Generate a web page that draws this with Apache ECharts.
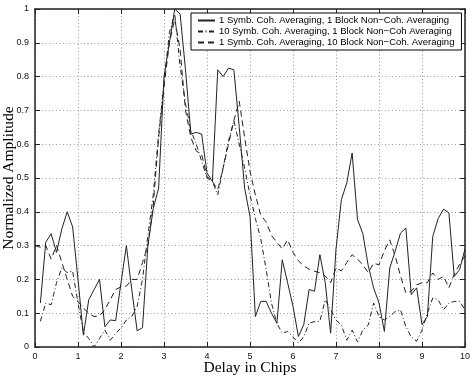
<!DOCTYPE html>
<html>
<head>
<meta charset="utf-8">
<script src="https://cdn.jsdelivr.net/npm/echarts@6/dist/echarts.min.js"></script>
<style>
html,body{margin:0;padding:0;background:#fff;}
#chart{width:474px;height:378px;}
</style>
</head>
<body>
<div id="chart"></div>
<script>
const delays = [0,0.125,0.25,0.375,0.5,0.625,0.75,0.875,1,1.125,1.25,1.375,1.5,1.625,1.75,1.875,2,2.125,2.25,2.375,2.5,2.625,2.75,2.875,3,3.125,3.25,3.375,3.5,3.625,3.75,3.875,4,4.125,4.25,4.375,4.5,4.625,4.75,4.875,5,5.125,5.25,5.375,5.5,5.625,5.75,5.875,6,6.125,6.25,6.375,6.5,6.625,6.75,6.875,7,7.125,7.25,7.375,7.5,7.625,7.75,7.875,8,8.125,8.25,8.375,8.5,8.625,8.75,8.875,9,9.125,9.25,9.375,9.5,9.625,9.75,9.875,10];

const seriesNames = [
  '1 Symb. Coh. Averaging, 1 Block Non\u2212Coh. Averaging',
  '10 Symb. Coh. Averaging, 1 Block Non\u2212Coh Averaging',
  '1 Symb. Coh. Averaging, 10 Block Non\u2212Coh. Averaging'
];

const solid1x1 = [null,0.13,0.31,0.335,0.28,0.35,0.40,0.355,0.20,0.035,0.14,0.17,0.20,0.06,0.08,0.078,0.19,0.30,0.17,0.048,0.057,0.30,0.41,0.47,0.80,0.90,1.00,0.985,0.82,0.63,0.635,0.63,0.515,0.49,0.82,0.80,0.825,0.82,0.65,0.47,0.386,0.09,0.135,0.135,0.10,0.07,0.258,0.19,0.12,0.031,0.066,0.17,0.165,0.273,0.19,0.041,0.29,0.436,0.485,0.574,0.377,0.335,0.24,0.175,0.13,0.046,0.234,0.283,0.337,0.352,0.155,0.175,0.066,0.09,0.327,0.38,0.408,0.397,0.209,0.229,0.29];

const dashdot10x1 = [null,0.076,0.13,0.125,0.19,0.234,0.22,0.225,0.13,0.045,0.025,0.0,0.025,0.05,0.02,0.04,0.056,0.08,0.09,0.12,0.20,0.33,0.45,0.63,0.78,0.93,0.985,0.83,0.72,0.64,0.60,0.55,0.50,0.49,0.45,0.53,0.61,0.67,0.60,0.53,0.45,0.38,0.32,0.23,0.13,0.07,0.041,0.046,0.03,0.012,0.03,0.071,0.075,0.076,0.14,0.11,0.08,0.065,0.02,0.05,0.015,0.05,0.065,0.13,0.09,0.08,0.09,0.105,0.11,0.06,0.03,0.017,0.05,0.10,0.145,0.14,0.11,0.13,0.135,0.135,0.11];

const dashed1x10 = [0.30,0.295,0.30,0.26,0.30,0.25,0.20,0.15,0.135,0.115,0.10,0.09,0.092,0.11,0.14,0.17,0.178,0.18,0.20,0.20,0.25,0.30,0.42,0.62,0.77,0.90,0.97,0.88,0.70,0.62,0.58,0.57,0.505,0.49,0.465,0.53,0.60,0.67,0.727,0.62,0.52,0.45,0.39,0.37,0.33,0.31,0.29,0.317,0.28,0.255,0.24,0.23,0.224,0.22,0.21,0.19,0.234,0.225,0.25,0.273,0.26,0.243,0.22,0.248,0.243,0.285,0.317,0.27,0.21,0.16,0.165,0.184,0.19,0.19,0.219,0.20,0.209,0.175,0.215,0.245,0.27];

const xTicks = [0,1,2,3,4,5,6,7,8,9,10];
const yTicks = [0,0.1,0.2,0.3,0.4,0.5,0.6,0.7,0.8,0.9,1];

function pairs(vals){ return delays.map((d,i)=>[d, vals[i]]); }

const chart = echarts.init(document.getElementById('chart'), null, {renderer:'canvas'});
const axisColor = '#222';
const gridLine = {show:true, lineStyle:{color:'#9a9a9a', type:[1,2.5], width:1}};
const labelFont = {fontFamily:'Liberation Sans, Arial, sans-serif', fontSize:9, color:'#111'};

const option = {
  backgroundColor:'#fff',
  animation:false,
  grid:{left:35, right:9, top:9, bottom:31, containLabel:false, outerBoundsMode:'none'},
  legend:{
    show:true,
    orient:'vertical',
    left:191, top:13,
    padding:[2,7,2,6],
    itemGap:0,
    itemWidth:17,
    itemHeight:11,
    backgroundColor:'#fff',
    borderColor:'#000',
    borderWidth:1,
    borderRadius:0,
    itemStyle:{color:'transparent', borderWidth:0, opacity:0},
    textStyle:{fontFamily:'Liberation Sans, Arial, sans-serif', fontSize:9.5, color:'#000', padding:[0,0,0,-1], lineHeight:11},
    data:seriesNames
  },
  xAxis:[
    {type:'value', min:0, max:10, interval:1, position:'bottom',
     name:'Delay in Chips', nameLocation:'middle', nameGap:13, nameMoveOverlap:false,
     nameTextStyle:{fontFamily:'Liberation Serif, Times New Roman, serif', fontSize:15.5, color:'#000'},
     axisLine:{show:true, onZero:false, lineStyle:{color:axisColor, width:1.5}},
     axisTick:{show:true, inside:true, length:5, lineStyle:{color:axisColor}},
     axisLabel:Object.assign({margin:5, formatter:(v)=> xTicks.includes(v) ? String(v) : ''}, labelFont),
     splitLine:gridLine},
    {type:'value', min:0, max:10, interval:1, position:'top',
     axisLine:{show:true, onZero:false, lineStyle:{color:axisColor, width:1.5}},
     axisTick:{show:true, inside:true, length:5, lineStyle:{color:axisColor}},
     axisLabel:{show:false}, splitLine:{show:false}}
  ],
  yAxis:[
    {type:'value', min:0, max:1, interval:0.1, position:'left',
     name:'Normalized Amplitude', nameLocation:'middle', nameGap:18, nameMoveOverlap:false,
     nameTextStyle:{fontFamily:'Liberation Serif, Times New Roman, serif', fontSize:15.5, color:'#000'},
     axisLine:{show:true, onZero:false, lineStyle:{color:axisColor, width:1.5}},
     axisTick:{show:true, inside:true, length:5, lineStyle:{color:axisColor}},
     axisLabel:Object.assign({margin:6, formatter:(v)=>{ const t = yTicks.find(y=>Math.abs(y-v)<1e-9); return t===undefined ? '' : String(t); }}, labelFont),
     splitLine:gridLine},
    {type:'value', min:0, max:1, interval:0.1, position:'right',
     axisLine:{show:true, onZero:false, lineStyle:{color:axisColor, width:1.5}},
     axisTick:{show:true, inside:true, length:5, lineStyle:{color:axisColor}},
     axisLabel:{show:false}, splitLine:{show:false}}
  ],
  series:[
    {name:seriesNames[0], type:'line', data:pairs(solid1x1), showSymbol:false, symbol:'none', connectNulls:false,
     lineStyle:{color:'#222', width:1, type:'solid'}, itemStyle:{color:'#222'}},
    {name:seriesNames[1], type:'line', data:pairs(dashdot10x1), showSymbol:false, symbol:'none',
     lineStyle:{color:'#222', width:1, type:[5,2.5,1,2.5]}, itemStyle:{color:'#222'}},
    {name:seriesNames[2], type:'line', data:pairs(dashed1x10), showSymbol:false, symbol:'none',
     lineStyle:{color:'#222', width:1, type:[6,4]}, itemStyle:{color:'#222'}}
  ]
};
chart.setOption(option);
</script>
</body>
</html>
